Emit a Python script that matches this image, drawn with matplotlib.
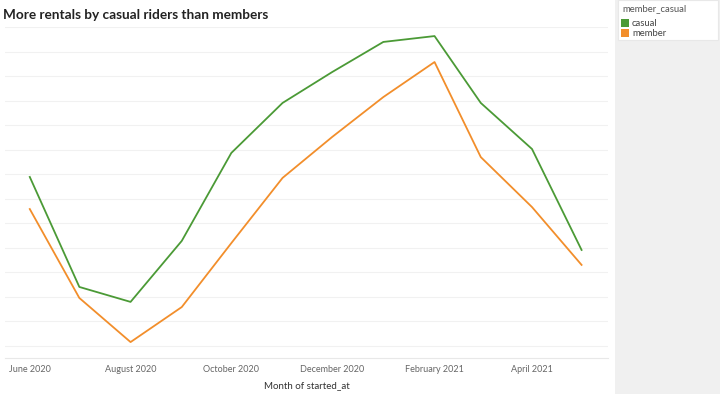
import matplotlib.pyplot as plt
import matplotlib.dates as mdates
import matplotlib.patches as mpatches
import numpy as np
from datetime import datetime

plt.rcParams['font.family'] = ['Lato', 'DejaVu Sans']

# monthly rentals (arbitrary units)
months = ["2020-06", "2020-07", "2020-08", "2020-09", "2020-10", "2020-11",
          "2020-12", "2021-01", "2021-02", "2021-03", "2021-04", "2021-05"]
casual = [79.0, 34.1, 28.0, 52.9, 88.8, 109.2, 121.8, 134.1, 136.5, 109.2, 90.4, 49.2]
member = [65.9, 29.6, 11.6, 25.9, 52.0, 78.6, 95.3, 111.6, 125.9, 87.1, 66.7, 43.1]
tick_months = ["2020-06", "2020-08", "2020-10", "2020-12", "2021-02", "2021-04"]
tick_labels = ["June 2020", "August 2020", "October 2020", "December 2020",
               "February 2021", "April 2021"]

green = "#4b9a36"
orange = "#f28e2b"

dates = [datetime.strptime(m, "%Y-%m") for m in months]
tick_dates = [datetime.strptime(m, "%Y-%m") for m in tick_months]

fig = plt.figure(figsize=(7.2, 3.94), dpi=100)

# grey side panel on the right
fig.patches.append(mpatches.Rectangle((615 / 720, 0), 105 / 720, 1, transform=fig.transFigure,
                                      facecolor="#f0f0f0", edgecolor="none", zorder=0))
fig.patches.append(mpatches.Rectangle((618 / 720, 1 - 40 / 394), 100 / 720, 40 / 394,
                                      transform=fig.transFigure, facecolor="white",
                                      edgecolor="#e8e8e8", linewidth=0.8, zorder=1))

ax = fig.add_axes([5 / 720, 1 - 358 / 394, 603 / 720, 331 / 394])
ax.plot(dates, casual, color=green, linewidth=1.3)
ax.plot(dates, member, color=orange, linewidth=1.3)

ax.set_xlim(datetime(2020, 5, 17), datetime(2021, 5, 17))
ax.set_ylim(5.1, 140.2)
ax.set_yticks(np.arange(10, 141, 10))
ax.set_yticklabels([])
ax.tick_params(axis="y", length=0)
ax.grid(axis="y", color="#f1f1f1", linewidth=0.8)
ax.set_axisbelow(True)

ax.set_xticks(tick_dates)
ax.set_xticklabels(tick_labels, fontsize=6.5, color="#666666")
ax.tick_params(axis="x", length=0, pad=5)
ax.set_xlabel("Month of started_at", fontsize=7, color="#333333", labelpad=5)

for side in ["top", "right", "left"]:
    ax.spines[side].set_visible(False)
ax.spines["bottom"].set_color("#e8e8e8")
ax.spines["bottom"].set_linewidth(0.8)

fig.text(3 / 720, 1 - 15 / 394, "More rentals by casual riders than members",
         fontsize=9.8, fontweight="bold", color="#222222", va="center", ha="left")

# legend in the side panel
fig.text(622 / 720, 1 - 9 / 394, "member_casual", fontsize=6.8, color="#555555",
         va="center", ha="left")
for i, (name, col) in enumerate([("casual", green), ("member", orange)]):
    y = 1 - (23 + 10 * i) / 394
    fig.patches.append(mpatches.Rectangle((621 / 720, y - 4 / 394), 8 / 720, 8 / 394,
                                          transform=fig.transFigure, facecolor=col,
                                          edgecolor="none", zorder=2))
    fig.text(632 / 720, y, name, fontsize=6.8, color="#444444", va="center", ha="left")

fig.savefig("out.png", dpi=100)
